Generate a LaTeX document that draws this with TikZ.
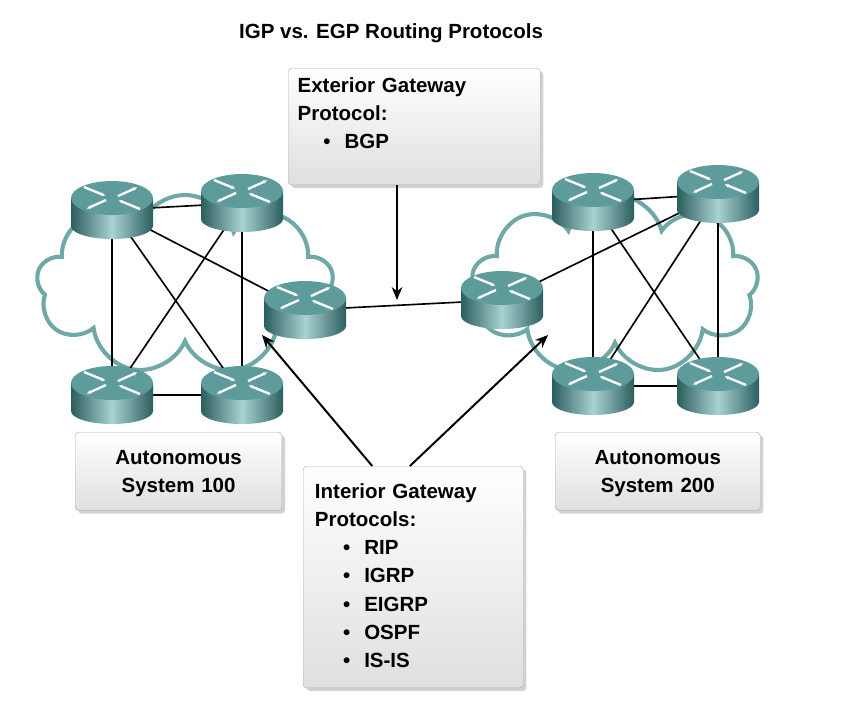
\documentclass[tikz,border=0pt]{standalone}
\usepackage{fontspec}
\setmainfont{Liberation Sans}
\usetikzlibrary{shapes.symbols,shadows,arrows.meta}
\definecolor{rtop}{HTML}{5E9C9C}
\definecolor{rbody}{HTML}{3F7C7C}
\definecolor{rlight}{HTML}{A9D2D2}
\definecolor{rdark}{HTML}{2C5E5E}
\definecolor{cloudline}{HTML}{6FA9A7}
\tikzset{
  router/.pic={
    \shade[left color=rdark,right color=rdark,middle color=rlight] (-41,-12) rectangle (41,16);
    \shade[left color=rdark,right color=rdark,middle color=rlight] (0,16) ellipse [x radius=41, y radius=13];
    \fill[rtop] (0,-12) ellipse [x radius=41, y radius=17];
    \begin{scope}[white,line width=2pt,-{Latex[length=4pt]}]
      \draw (-28,-23) -- (-6,-14);
      \draw (28,-1) -- (6,-10);
      \draw (6,-14) -- (26,-23);
      \draw (-6,-10) -- (-26,-1);
    \end{scope}
  },
  rnode/.style={inner sep=0pt,minimum width=2.4cm,minimum height=1.6cm},
  link/.style={draw=black,line width=1.4pt},
  ptr/.style={draw=black,line width=1.7pt,-{Stealth[length=11pt,width=9pt]}},
  infobox/.style={draw=gray!60,rounded corners=3pt,drop shadow={opacity=0.35},
    top color=white,bottom color=gray!25,align=left,anchor=north west,
    inner sep=0pt,font=\bfseries\fontsize{17.5}{24}\selectfont},
  cloudy/.style={cloud,cloud puffs=9,draw=cloudline,line width=3.5pt,aspect=1.6}
}
\begin{document}
\begin{tikzpicture}[x=0.03cm,y=-0.03cm]
  \useasboundingbox (0,0) rectangle (851,714);
  \node at (391,33) {\bfseries\fontsize{17.5}{20}\selectfont IGP vs. EGP Routing Protocols};
  % clouds
  \node[cloudy,minimum width=8.9cm,minimum height=5.4cm] (cl1) at (185,285) {};
  \node[cloudy,minimum width=8.6cm,minimum height=5.4cm] (cl2) at (615,285) {};
  % routers
  \path
    (112,210) node[rnode] (a1){}
    (242,203) node[rnode] (a2){}
    (305,310) node[rnode] (a3){}
    (112,395) node[rnode] (a4){}
    (242,395) node[rnode] (a5){}
    (593,202) node[rnode] (b1){}
    (718,194) node[rnode] (b2){}
    (502,300) node[rnode] (b3){}
    (593,386) node[rnode] (b4){}
    (718,386) node[rnode] (b5){};
  \begin{scope}[link]
    \draw (a1.center) -- (a2.center);
    \draw (a1.center) -- (a4.center);
    \draw (a1.center) -- (a5.center);
    \draw (a1.center) -- (a3.center);
    \draw (a2.center) -- (a4.center);
    \draw (a2.center) -- (a5.center);
    \draw (a4.center) -- (a5.center);
    \draw (a3.center) -- (b3.center);
    \draw (b3.center) -- (b2.center);
    \draw (b1.center) -- (b2.center);
    \draw (b1.center) -- (b4.center);
    \draw (b1.center) -- (b5.center);
    \draw (b2.center) -- (b4.center);
    \draw (b2.center) -- (b5.center);
    \draw (b4.center) -- (b5.center);
  \end{scope}
  \foreach \r in {a1,a2,a3,a4,a5,b1,b2,b3,b4,b5}
    \pic at (\r) {router};
  % text boxes
  \node[infobox,text width=7.56cm,minimum height=3.5cm] (egp) at (288,68)
    {\hspace{8pt}\rule{0pt}{16pt}Exterior Gateway\\\hspace{8pt}Protocol:\\\hspace{30pt}\textbullet\hspace{12pt}BGP\rule[-26pt]{0pt}{0pt}};
  \node[infobox,text width=6.2cm,minimum height=2.35cm,align=center] (as1) at (75,432)
    {\rule{0pt}{16pt}Autonomous\\System 100};
  \node[infobox,text width=6.15cm,minimum height=2.35cm,align=center] (as2) at (555,432)
    {\rule{0pt}{16pt}Autonomous\\System 200};
  \node[infobox,text width=6.6cm,minimum height=6.65cm] (igp) at (303,466)
    {\hspace{10pt}\rule{0pt}{16pt}Interior Gateway\\\hspace{10pt}Protocols:\\
     \hspace{34pt}\textbullet\hspace{12pt}RIP\\
     \hspace{34pt}\textbullet\hspace{12pt}IGRP\\
     \hspace{34pt}\textbullet\hspace{12pt}EIGRP\\
     \hspace{34pt}\textbullet\hspace{12pt}OSPF\\
     \hspace{34pt}\textbullet\hspace{12pt}IS-IS\rule[-6pt]{0pt}{0pt}};
  % pointers
  \coordinate (t1) at (397,300);
  \coordinate (t2) at (262,335);
  \coordinate (t3) at (548,335);
  \draw[ptr] (egp.south -| t1) -- (t1);
  \draw[ptr] ([xshift=-1.23cm]igp.north) -- (t2);
  \draw[ptr] ([xshift=-0.1cm]igp.north) -- (t3);
\end{tikzpicture}
\end{document}
